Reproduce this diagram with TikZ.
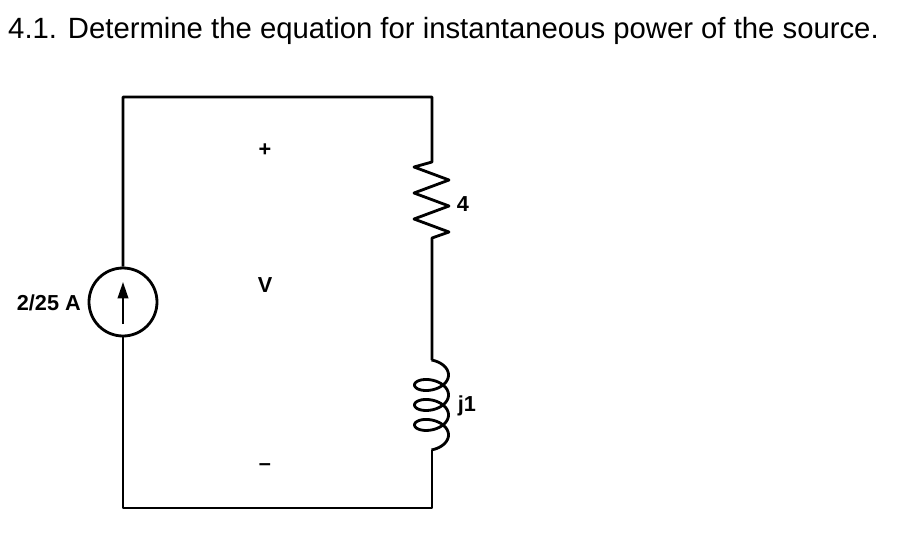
\documentclass[tikz,border=0pt]{standalone}
\usepackage{fontspec}
\setmainfont{Liberation Sans}
\usetikzlibrary{arrows.meta}
\begin{document}
\begin{tikzpicture}[x=0.03cm,y=-0.03cm,
  wire/.style={line width=2.4pt,line join=round},
  lbl/.style={font=\fontsize{18.5}{20}\selectfont\bfseries,inner sep=0pt}]
\useasboundingbox (0,0) rectangle (912,550);
\node[anchor=west,inner sep=0pt,font=\fontsize{25}{29}\selectfont] (title) at (8,31) {4.1. Determine the equation for instantaneous power of the source.};
\coordinate (tl) at (123,97); \coordinate (tr) at (432,97);
\coordinate (bl) at (123,508); \coordinate (br) at (432,508);
\node[draw,circle,line width=2.4pt,minimum size=2.04cm,inner sep=0pt] (src) at (123,302) {};
\coordinate (r1) at (432,162); \coordinate (r2) at (432,238);
\coordinate (l1) at (432,360); \coordinate (l2) at (432,450);
\draw[wire] (src.north) -- (tl) -- (tr) -- (r1) -- (414,167) -- (449,180) -- (414,193) -- (449,206) -- (414,219) -- (449,232) -- (r2) -- (l1);
\draw[wire] plot[domain=1.5708:23.5619,samples=200,smooth] ({431.5-17*cos(\x r)},{365+3.18*\x-10*sin(\x r)});
\draw[wire] (l2) -- (br) -- (bl) -- (src.south);
\draw[line width=1.8pt,-{Triangle[length=14pt,width=9pt]}] (123,324) -- (123,282);
\node[lbl,anchor=east] (ia) at (81,303) {2/25 A};
\node[lbl] (plus) at (265,150) {+};
\node[lbl] (v) at (265,285) {V};
\node[lbl] (minus) at (265,467) {–};
\node[lbl] (four) at (463,204) {4};
\node[lbl] (j1) at (467,406) {j1};
\end{tikzpicture}
\end{document}
